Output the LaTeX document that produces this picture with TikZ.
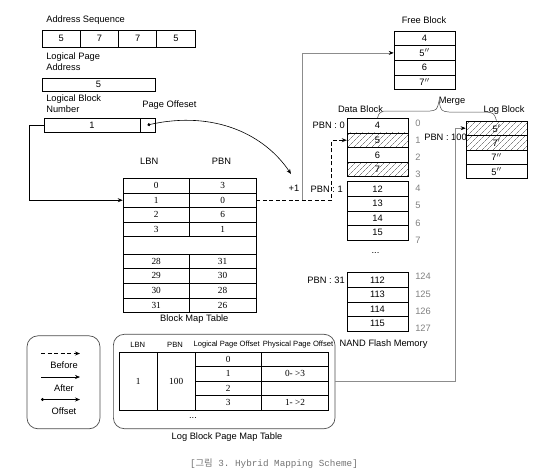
\documentclass[tikz,border=0pt]{standalone}
\usepackage{fontspec}
\setmainfont{Liberation Sans}
\setmonofont{Liberation Mono}
\newfontfamily\cjkfont{Noto Sans CJK KR}
\newfontfamily\numfont{Liberation Serif}
\usetikzlibrary{arrows.meta,patterns.meta,positioning}
\tikzset{
    cell/.style={draw, inner sep=0pt, minimum height=14.6pt},
    dcell/.style={cell, minimum width=61pt},
    hatched/.style={pattern={Lines[angle=45,distance=4pt,line width=0.4pt]}, pattern color=black!75},
    lbl/.style={inner sep=0pt},
    pgno/.style={inner sep=0pt, anchor=west, text=black!50},
    small/.style={inner sep=0pt, font=\fontsize{7.6}{9}\selectfont},
    before/.style={draw, line width=1.1pt, dash pattern=on 4pt off 2.5pt, -{Stealth[length=5pt,width=4pt]}},
    after/.style={draw, -{Stealth[length=5pt,width=4pt]}},
    grayafter/.style={draw=black!45, -{Stealth[length=5pt,width=4pt,black]}},
    offset/.style={draw, {Circle[length=3pt]}-{Stealth[length=5pt,width=4pt]}},
    panel/.style={draw=black!70, rounded corners=11pt, inner sep=0pt, line width=0.7pt},
    brace/.style={draw=black!70, line width=0.5pt}
}

\begin{document}
\fontsize{9.3}{11}\selectfont
\begin{tikzpicture}[x=1pt, y=-1pt, line width=0.6pt]
    \useasboundingbox (0,0) rectangle (550,475);

    % Address
    \node[lbl, anchor=west] (aseq) at (46,20) {Address Sequence};
    \foreach \v [count=\i] in {5,7,7,5}
        \node[cell, minimum width=38.25pt, minimum height=17pt] (a\i) at ({42+38.25*(\i-0.5)},38.5) {\v};
    \node[lbl, anchor=north west, align=left] (lpa) at (46,52) {Logical Page\\Address};
    \node[cell, minimum width=113pt, minimum height=13pt] (lpn) at (98.5,84.5) {5};
    \node[lbl, anchor=north west, align=left] (lbnl) at (46,94) {Logical Block\\Number};
    \node[lbl, anchor=west] (pofl) at (142,105) {Page Offeset};
    \node[cell, minimum width=96pt, minimum height=14pt] (lbn) at (92,125) {1};
    \node[cell, minimum width=15pt, minimum height=14pt] (pofs) at (147.5,125) {};

    % Block map table
    \node[lbl] (bmlh) at (149.2,161) {LBN};
    \node[lbl] (bmph) at (221.5,161) {PBN};
    \foreach \l/\p [count=\i from 0] in {0/3,1/0,2/6,3/1} {
        \node[cell, minimum width=66.3pt, font=\numfont] (bml\i) at (156.2,{178.3+14.6*(\i+0.5)}) {\l};
        \node[cell, minimum width=66.7pt, font=\numfont] (bmp\i) at (222.6,{178.3+14.6*(\i+0.5)}) {\p};
    }
    \node[cell, minimum width=133pt, minimum height=17.3pt] (bmgap) at (189.5,245.35) {};
    \foreach \l/\p [count=\i from 0] in {28/31,29/30,30/28,31/26} {
        \node[cell, minimum width=66.3pt, font=\numfont] (bmlb\i) at (156.2,{254+14.6*(\i+0.5)}) {\l};
        \node[cell, minimum width=66.7pt, font=\numfont] (bmpb\i) at (222.6,{254+14.6*(\i+0.5)}) {\p};
    }
    \node[lbl] (bmt) at (194.3,319) {Block Map Table};

    % Data blocks
    \node[lbl] (dbl) at (360.5,109) {Data Block};
    \node[dcell] (d0) at (377.5,125.6) {4};
    \node[dcell, hatched] (d1) at (377.5,140.2) {5};
    \node[dcell] (d2) at (377.5,154.8) {6};
    \node[dcell, hatched] (d3) at (377.5,169.4) {7};
    \foreach \v [count=\i from 0] in {12,13,14,15}
        \node[dcell] (e\i) at (377.5,{181.7+14.6*(\i+0.5)}) {\v};
    \foreach \v [count=\i from 0] in {112,113,114,115}
        \node[dcell] (g\i) at (377.5,{272.7+14.6*(\i+0.5)}) {\v};
    \foreach \n/\y in {0/123,1/140.5,2/157,3/174,4/188,5/205.5,6/223,7/240,124/276,125/294,126/311,127/328}
        \node[pgno] (n\n) at (415,\y) {\n};
    \node[lbl, anchor=east] (pbn0) at (345,125) {PBN : 0};
    \node[lbl, anchor=east] (pbn1) at (343,189) {PBN : 1};
    \node[lbl, anchor=east] (pbn31) at (345,280) {PBN : 31};
    \node[lbl] (ddots) at (375.5,253) {...};
    \node[lbl] (nand) at (383.5,344) {NAND Flash Memory};

    % Free block
    \node[lbl] (fbl) at (424,20) {Free Block};
    \foreach \v [count=\i from 0] in {4,5$''$,6,7$''$}
        \node[dcell] (f\i) at (424.5,{31+14.6*(\i+0.5)}) {\v};

    % Log block
    \node[lbl] (logl) at (504,110) {Log Block};
    \node[dcell, hatched, minimum height=14.4pt] (l0) at (496.5,128.2) {5$'$};
    \node[dcell, hatched, minimum height=14.4pt] (l1) at (496.5,142.6) {7$'$};
    \node[dcell, minimum height=14.4pt] (l2) at (496.5,157) {7$''$};
    \node[dcell, minimum height=14.4pt] (l3) at (496.5,171.4) {5$''$};
    \node[lbl, anchor=east] (pbn100) at (467,137.5) {PBN : 100};
    \node[lbl] (merge) at (452,101) {Merge};
    \node[lbl] (plus1) at (294,188) {+1};

    % Legend
    \node[panel, minimum width=73pt, minimum height=93pt] (legend) at (63.5,382.3) {};
    \coordinate (bs) at (41,353.5);
    \coordinate (be) at (80,353.5);
    \coordinate (as) at (41,377);
    \coordinate (ae) at (80,377);
    \coordinate (os) at (41,399.5);
    \coordinate (oe) at (80,399.5);
    \node[lbl] (befl) at (64,365) {Before};
    \node[lbl] (aftl) at (64,388) {After};
    \node[lbl] (offl) at (64,411.5) {Offset};

    % Log block page map table
    \node[panel, minimum width=221.7pt, minimum height=94.4pt] (lpt) at (224.2,381.5) {};
    \node[small] (th1) at (137.7,345) {LBN};
    \node[small] (th2) at (175,345) {PBN};
    \node[small] (th3) at (226.7,345) {Logical Page Offset};
    \node[small] (th4) at (298,345) {Physical Page Offset};
    \node[cell, minimum width=38.3pt, minimum height=57.7pt, font=\numfont] (lptl) at (138.2,381.2) {1};
    \node[cell, minimum width=37.7pt, minimum height=57.7pt, font=\numfont] (lptp) at (176.2,381.2) {100};
    \foreach \lo/\po [count=\i from 0] in {0/,1/0- >3,2/,3/1- >2} {
        \node[cell, minimum width=66.7pt, minimum height=14.4pt, font=\numfont] (lo\i) at (228.3,{352.3+14.4*(\i+0.5)}) {\lo};
        \node[cell, minimum width=66.6pt, minimum height=14.4pt, font=\numfont] (po\i) at (295,{352.3+14.4*(\i+0.5)}) {\po};
    }
    \node[lbl] (ldots) at (193,418) {...};
    \node[lbl] (lptt) at (227,437.5) {Log Block Page Map Table};

    % Caption
    \node[lbl, text=black!55, font=\ttfamily] (cap) at (274,464) {[{\cjkfont 그림} 3. Hybrid Mapping Scheme]};

    % edges
    \draw[after] (lbn.west) -- ++(-14,0) |- (bml1.west);
    \coordinate (plus) at (291,174);
    \draw[offset] (pofs.center) .. controls (215,110) and (265,135) .. (plus);
    \draw[grayafter] ([xshift=46pt]bmp1.east) |- (f1.west);
    \draw[before] (bmp1.east) -| ([xshift=-15pt]d1.west) -- (d1.west);
    \draw[grayafter] (lpt.east) -| ([xshift=-10pt]l0.west) -- (l0.west);
    \draw[brace] (d0.north) .. controls (379,113) .. (384,111) -- (430,111)
        .. controls (437,110) .. (439,101) .. controls (441,111) .. (449,112)
        -- (486,112) .. controls (494,113) .. (l0.north);
    \draw[before] (bs) -- (be);
    \draw[after] (as) -- (ae);
    \draw[offset] (os) -- (oe);
\end{tikzpicture}
\end{document}
